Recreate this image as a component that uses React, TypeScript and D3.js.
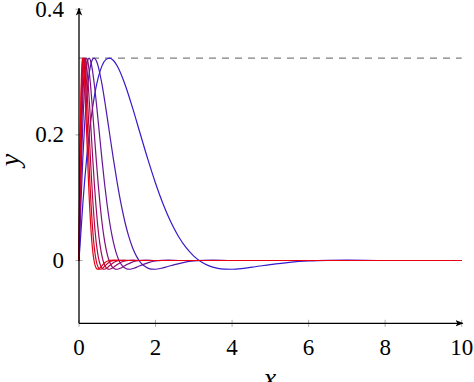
import React from "react";
import * as d3 from "d3";

// Profile of the widest (blue) curve
const BASE_X = [0, 0.1, 0.2, 0.3, 0.4, 0.5, 0.6, 0.7, 0.8, 0.9, 1.0, 1.2, 1.4, 1.6, 1.8, 2.0, 2.2, 2.4, 2.6, 2.8, 3.0, 3.2, 3.4, 3.6, 3.8, 4.0, 4.3, 4.6, 5.0, 5.5, 6.0, 6.5, 7.0, 8.0, 10.0];
const BASE_Y = [0, 0.0903, 0.1627, 0.2189, 0.261, 0.2908, 0.3099, 0.3199, 0.3223, 0.3185, 0.3096, 0.2807, 0.243, 0.2018, 0.161, 0.1231, 0.0896, 0.0613, 0.0383, 0.0204, 0.007, -0.0024, -0.0085, -0.0121, -0.0137, -0.0139, -0.0124, -0.01, -0.0065, -0.0029, -0.0007, 0.0003, 0.0006, 0, 0];
// Horizontal compression of each curve (blue → red)
const RATES = [1, 2, 3, 4, 5, 6, 7, 8];
const PEAK = 0.3224;
const X_TICKS = [0, 2, 4, 6, 8, 10];
const Y_TICKS = [0, 0.2, 0.4];
const Y_TICK_LABELS = ["0", "0.2", "0.4"];

const W = 474;
const H = 382;

export default function App() {
  const x = d3.scaleLinear().domain([0, 10]).range([79, 461.7]);
  const y = d3.scaleLinear().domain([-0.1, 0.4]).range([323.3, 9.3]);
  const line = d3
    .line<[number, number]>()
    .x((d) => x(d[0]))
    .y((d) => y(d[1]))
    .curve(d3.curveMonotoneX);
  const color = d3.interpolateRgb("rgb(50,28,205)", "rgb(232,0,16)");
  const font = "Liberation Serif, DejaVu Serif, Times New Roman, serif";

  const curves = RATES.map((r, i) => {
    const pts: [number, number][] = [];
    BASE_X.forEach((bx, j) => {
      const xv = bx / r;
      if (xv <= 10) pts.push([xv, BASE_Y[j]]);
    });
    if (pts[pts.length - 1][0] < 10) pts.push([10, 0]);
    return { pts, c: color(i / (RATES.length - 1)) };
  });

  const ax0 = x(0);
  const ayb = y(-0.1);
  return (
    <svg
      width={W}
      height={H}
      style={{ position: "absolute", left: 0, top: 0, background: "#fff" }}
    >
      <defs>
        <marker id="arr" viewBox="0 0 10 10" refX="9" refY="5" markerWidth="8" markerHeight="8" orient="auto" markerUnits="userSpaceOnUse">
          <path d="M0,1 L10,5 L0,9 L2.5,5 Z" fill="#000" />
        </marker>
      </defs>
      {/* ticks */}
      {X_TICKS.map((t) => (
        <line key={"xt" + t} x1={x(t)} x2={x(t)} y1={ayb - 3.5} y2={ayb + 3.5} stroke="#aaa" strokeWidth={1} />
      ))}
      {Y_TICKS.map((t) => (
        <line key={"yt" + t} x1={ax0 - 3.5} x2={ax0 + 3.5} y1={y(t)} y2={y(t)} stroke="#aaa" strokeWidth={1} />
      ))}
      {/* dashed peak line */}
      <line x1={x(0)} x2={x(10)} y1={y(PEAK)} y2={y(PEAK)} stroke="#808080" strokeWidth={1.2} strokeDasharray="7,6" />
      {/* curves */}
      {curves.map((c, i) => (
        <path key={i} d={line(c.pts) || ""} fill="none" stroke={c.c} strokeWidth={1.2} />
      ))}
      {/* axes */}
      <line x1={ax0} x2={x(10) + 1} y1={ayb} y2={ayb} stroke="#000" strokeWidth={1.3} markerEnd="url(#arr)" />
      <line x1={ax0} x2={ax0} y1={ayb} y2={y(0.4) - 1} stroke="#000" strokeWidth={1.3} markerEnd="url(#arr)" />
      {/* tick labels */}
      {X_TICKS.map((t) => (
        <text key={"xl" + t} x={x(t)} y={355} textAnchor="middle" style={{ fontFamily: font, fontSize: 23 }}>
          {String(t)}
        </text>
      ))}
      {Y_TICKS.map((t, i) => (
        <text key={"yl" + t} x={64} y={y(t) + 7.5} textAnchor="end" style={{ fontFamily: font, fontSize: 23 }}>
          {Y_TICK_LABELS[i]}
        </text>
      ))}
      {/* axis labels */}
      <text x={270} y={387} textAnchor="middle" style={{ fontFamily: font, fontStyle: "italic", fontSize: 28 }}>
        x
      </text>
      <text
        transform={`translate(19,${y(0.16)}) rotate(-90)`}
        textAnchor="middle"
        style={{ fontFamily: font, fontStyle: "italic", fontSize: 28 }}
      >
        y
      </text>
    </svg>
  );
}
